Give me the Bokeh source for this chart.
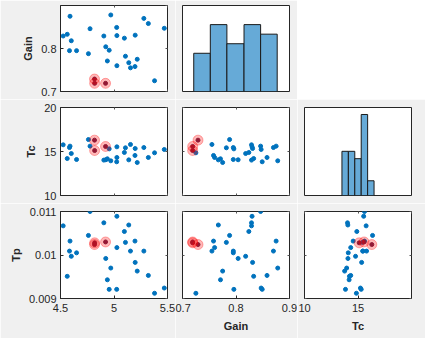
from bokeh.plotting import figure
from bokeh.layouts import gridplot
from bokeh.models import (FixedTicker, CustomJSTickFormatter, Range1d, LinearAxis,
                          CustomLabelingPolicy)
from bokeh.embed import file_html
from bokeh.resources import INLINE

# ---- data ----
x1 = [4.525, 4.563, 4.584, 4.589, 4.601, 4.650, 4.761, 4.776, 4.905, 4.923,
      4.938, 4.955, 4.970, 5.025, 5.027, 5.027, 5.097, 5.107, 5.138, 5.154,
      5.196, 5.198, 5.217, 5.279, 5.321, 5.379, 5.470]
gain = [0.829, 0.833, 0.795, 0.875, 0.818, 0.795, 0.788, 0.846, 0.829, 0.804,
        0.771, 0.796, 0.878, 0.849, 0.830, 0.760, 0.824, 0.782, 0.767, 0.755,
        0.758, 0.831, 0.775, 0.870, 0.858, 0.725, 0.847]
tc = [15.76, 14.20, 15.45, 15.61, 14.77, 14.09, 16.36, 15.61, 14.02, 14.06,
      14.17, 15.30, 13.94, 13.83, 15.53, 14.32, 14.89, 15.42, 14.05, 15.80,
      14.55, 15.34, 13.75, 15.45, 14.32, 14.85, 15.23]
tp = [0.01067, 0.00951, 0.01009, 0.01032, 0.00997, 0.01005, 0.01045, 0.01100, 0.01074, 0.00992,
      0.00943, 0.00921, 0.00970, 0.00921, 0.01089, 0.01017, 0.01054, 0.01029, 0.01069, 0.01009,
      0.01032, 0.00983, 0.00963, 0.01009, 0.00953, 0.00912, 0.00924]

# brushed (highlighted) observations
sel_x1 = [4.818, 4.819, 4.921]
sel_gain = [0.729, 0.719, 0.719]
sel_tc = [16.29, 15.11, 15.57]
sel_tp = [0.01024, 0.01028, 0.01030]

gain_edges = [0.721, 0.752, 0.783, 0.815, 0.846, 0.877]
gain_counts = [4, 7, 5, 7, 6]
tc_edges = [13.5, 14.1, 14.7, 15.3, 15.9, 16.5]
tc_counts = [6, 6, 5, 11, 2]

x1_ticks = [4.5, 5, 5.5]
gain_ticks = [0.7, 0.8, 0.9]
gain_yticks = [0.7, 0.8]
tc_ticks = [10, 15, 20]
tc_xticks = [10, 15]
tp_ticks = [0.009, 0.01, 0.011]

# ---- styling ----
BG = "#f0f0f0"
INK = "#262626"
BLUE = "#0072BD"
FONT = "Liberation Sans"
FW = 107
COLS = [(60, 8), (7, 8), (7, 14)]       # (left border, right border)
ROWS = [(5, 86, 8), (8, 88, 8), (8, 87, 40)]  # (top, frame height, bottom)

fmt_code = "return String(Math.round(tick*100000)/100000)"


def style_axis(ax, ticks, label):
    ax.visible = True
    ax.ticker = FixedTicker(ticks=ticks)
    ax.formatter = CustomJSTickFormatter(code=fmt_code)
    ax.major_label_text_font = FONT
    ax.major_label_text_font_size = "11px"
    ax.major_label_text_color = INK
    ax.axis_label = label
    ax.axis_label_text_font = FONT
    ax.axis_label_text_font_size = "11px"
    ax.axis_label_text_font_style = "bold"
    ax.axis_label_text_color = INK
    ax.axis_line_color = INK
    ax.major_tick_line_color = INK
    ax.major_tick_in = 3
    ax.major_tick_out = 0
    ax.minor_tick_line_color = None


def tick_only_axis(ax, ticks):
    # inside tick marks only; the labelling policy keeps no labels
    ax.visible = True
    ax.ticker = FixedTicker(ticks=ticks)
    ax.major_label_policy = CustomLabelingPolicy(code="return []")
    ax.major_label_text_font_size = "0px"
    ax.major_label_standoff = 0
    ax.axis_label = None
    ax.axis_line_color = None
    ax.major_tick_line_color = "#555555"
    ax.major_tick_in = 2
    ax.major_tick_out = 0
    ax.minor_tick_line_color = None


def make(r, c, xr, yr):
    L, R = COLS[c]
    T, FH, B = ROWS[r]
    p = figure(width=L + FW + R, height=T + FH + B,
               x_range=Range1d(*xr), y_range=Range1d(*yr),
               output_backend="svg", toolbar_location=None,
               min_border_left=L, min_border_right=R,
               min_border_top=T, min_border_bottom=B,
               background_fill_color="white", border_fill_color=BG,
               outline_line_color=INK, outline_line_width=1)
    p.grid.visible = False
    p.xaxis.visible = False
    p.yaxis.visible = False
    return p


def scatter(p, xs, ys, sx, sy, xt, yt):
    if not p.xaxis[0].visible:
        tick_only_axis(p.xaxis[0], xt)
    if not p.yaxis[0].visible:
        tick_only_axis(p.yaxis[0], yt)
    top = LinearAxis()
    p.add_layout(top, "above")
    tick_only_axis(top, xt)
    right = LinearAxis()
    p.add_layout(right, "right")
    tick_only_axis(right, yt)
    p.scatter(xs, ys, size=4, color=BLUE)
    p.scatter(sx, sy, size=4, color="#6a2248")
    p.scatter(sx, sy, size=10, fill_color="#ff0000", fill_alpha=0.28,
              line_color="#ff0000", line_alpha=0.3)


X1R = (4.5, 5.5)
GR = (0.7, 0.9)
TCR = (10, 20)
TPR = (0.009, 0.011)

# row 1: Gain
a = make(0, 0, X1R, GR)
style_axis(a.yaxis[0], gain_yticks, "Gain")
scatter(a, x1, gain, sel_x1, sel_gain, x1_ticks, gain_ticks)

b = make(0, 1, GR, (0, 9.0))
b.quad(left=gain_edges[:-1], right=gain_edges[1:], top=gain_counts, bottom=0,
       fill_color="#66AAD7", line_color="#1a1a1a", line_width=1)

# row 2: Tc
c = make(1, 0, X1R, TCR)
style_axis(c.yaxis[0], tc_ticks, "Tc")
scatter(c, x1, tc, sel_x1, sel_tc, x1_ticks, tc_ticks)

d = make(1, 1, GR, TCR)
scatter(d, gain, tc, sel_gain, sel_tc, gain_ticks, tc_ticks)

e = make(1, 2, TCR, (0, 11.95))
e.quad(left=tc_edges[:-1], right=tc_edges[1:], top=tc_counts, bottom=0,
       fill_color="#66AAD7", line_color="#1a1a1a", line_width=1)

# row 3: Tp
f = make(2, 0, X1R, TPR)
style_axis(f.yaxis[0], tp_ticks, "Tp")
style_axis(f.xaxis[0], x1_ticks, "")
scatter(f, x1, tp, sel_x1, sel_tp, x1_ticks, tp_ticks)

g = make(2, 1, GR, TPR)
style_axis(g.xaxis[0], gain_ticks, "Gain")
scatter(g, gain, tp, sel_gain, sel_tp, gain_ticks, tp_ticks)

h = make(2, 2, TCR, TPR)
style_axis(h.xaxis[0], tc_xticks, "Tc")
scatter(h, tc, tp, sel_tc, sel_tp, tc_ticks, tp_ticks)

for ax in (f.xaxis[0], g.xaxis[0], h.xaxis[0]):
    ax.major_label_standoff = 5
    ax.axis_label_standoff = 3
for ax in (a.yaxis[0], c.yaxis[0], f.yaxis[0]):
    ax.major_label_standoff = 4
    ax.axis_label_standoff = 4

grid = gridplot([[a, b, None], [c, d, e], [f, g, h]], toolbar_location=None)

open("out.html", "w").write(file_html(grid, INLINE))
